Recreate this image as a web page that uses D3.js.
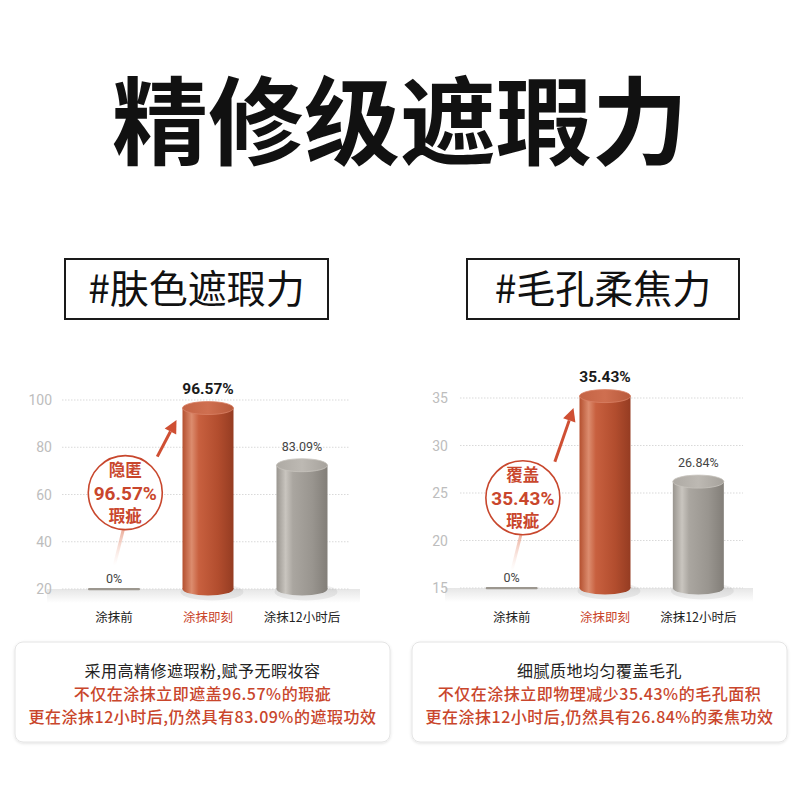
<!DOCTYPE html>
<html><head><meta charset="utf-8">
<script src="https://cdn.jsdelivr.net/npm/d3@7"></script>
<style>
html,body{margin:0;padding:0;background:#fff;}
svg{display:block;font-family:"Noto Sans CJK SC","Noto Sans",sans-serif;}
</style></head>
<body><svg id="c" width="800" height="800"></svg>
<script>
// ---------- data ----------
const title = "精修级遮瑕力";
const categories = ["涂抹前", "涂抹即刻", "涂抹12小时后"];
const leftTag = "#肤色遮瑕力";
const rightTag = "#毛孔柔焦力";
const leftTicks = [20, 40, 60, 80, 100];
const rightTicks = [15, 20, 25, 30, 35];
const leftLabels = ["0%", "96.57%", "83.09%"];
const rightLabels = ["0%", "35.43%", "26.84%"];
// bar tops
const leftValues = [20, 96.6, 72.4];
const rightValues = [15, 35.2, 26.2];
const leftBadge = ["隐匿", "96.57%", "瑕疵"];
const rightBadge = ["覆盖", "35.43%", "瑕疵"];
const leftText = ["采用高精修遮瑕粉,赋予无暇妆容", "不仅在涂抹立即遮盖96.57%的瑕疵", "更在涂抹12小时后,仍然具有83.09%的遮瑕功效"];
const rightText = ["细腻质地均匀覆盖毛孔", "不仅在涂抹立即物理减少35.43%的毛孔面积", "更在涂抹12小时后,仍然具有26.84%的柔焦功效"];

const RED = "#c9462c";
const svg = d3.select("#c");
const defs = svg.append("defs");

function hGrad(id, stops) {
  const g = defs.append("linearGradient").attr("id", id).attr("x1", "0%").attr("x2", "100%").attr("y1", "0%").attr("y2", "0%");
  stops.forEach(s => g.append("stop").attr("offset", s[0]).attr("stop-color", s[1]));
}
function vGrad(id, stops) {
  const g = defs.append("linearGradient").attr("id", id).attr("x1", "0%").attr("x2", "0%").attr("y1", "0%").attr("y2", "100%");
  stops.forEach(s => g.append("stop").attr("offset", s[0]).attr("stop-color", s[1]).attr("stop-opacity", s[2] == null ? 1 : s[2]));
}
hGrad("orBody", [["0%", "#b4502f"], ["18%", "#dc8c6e"], ["32%", "#c8603f"], ["70%", "#b24d2e"], ["100%", "#953c22"]]);
hGrad("orTop", [["0%", "#c46445"], ["50%", "#cf6f50"], ["100%", "#b85a3c"]]);
hGrad("grBody", [["0%", "#99958f"], ["18%", "#c9c5bf"], ["32%", "#aaa6a0"], ["70%", "#99958f"], ["100%", "#827e78"]]);
hGrad("grTop", [["0%", "#aeaaa4"], ["50%", "#bdb9b3"], ["100%", "#a6a29c"]]);
vGrad("floor", [["0%", "#e6e6e6"], ["100%", "#ffffff"]]);
vGrad("fade", [["0%", "#e9a48f", 0.9], ["100%", "#f6d6cb", 0]]);
const sh = defs.append("filter").attr("id", "shadow").attr("x", "-10%").attr("y", "-10%").attr("width", "120%").attr("height", "130%");
sh.append("feDropShadow").attr("dx", 0).attr("dy", 1).attr("stdDeviation", 1.5).attr("flood-color", "#000").attr("flood-opacity", 0.12);

// ---------- title ----------
svg.append("text").attr("x", 400).attr("y", 157).attr("text-anchor", "middle")
  .attr("font-size", 96).attr("font-weight", 700).attr("fill", "#111").text(title);

// ---------- tags ----------
function tag(x0, x1, txt) {
  svg.append("rect").attr("x", x0).attr("y", 259).attr("width", x1 - x0).attr("height", 60)
    .attr("fill", "#fff").attr("stroke", "#1a1a1a").attr("stroke-width", 2);
  svg.append("text").attr("x", (x0 + x1) / 2).attr("y", 303).attr("text-anchor", "middle")
    .attr("font-size", 39).attr("font-weight", 400).attr("fill", "#111").text(txt);
}
tag(65, 328, leftTag);
tag(467, 739, rightTag);

// ---------- charts ----------
function chart(cfg) {
  const g = svg.append("g");
  const y = d3.scaleLinear().domain(cfg.domain).range([cfg.yBase, cfg.yTop]);
  const x = d3.scalePoint().domain(categories).range(cfg.xRange).padding(0.5);
  const step = x.step();
  const bw = 51, ry = 6.5;

  // floor
  g.append("rect").attr("x", cfg.gx0 - 15).attr("y", cfg.yBase).attr("width", cfg.gx1 - cfg.gx0 + 25).attr("height", 14)
    .attr("fill", "url(#floor)");

  // grid + ticks
  cfg.ticks.forEach(t => {
    g.append("line").attr("x1", cfg.gx0).attr("x2", cfg.gx1).attr("y1", y(t)).attr("y2", y(t))
      .attr("stroke", "#d9d9d9").attr("stroke-width", 1).attr("stroke-dasharray", "1.5,1.5");
    g.append("text").attr("x", cfg.labX).attr("y", y(t) + 5).attr("text-anchor", "end")
      .attr("font-family", "Roboto, 'Noto Sans', sans-serif").attr("font-size", 14).attr("fill", "#bdbdbd").text(t);
  });

  // bars
  cfg.values.forEach((v, i) => {
    const cx = x(categories[i]);
    const yT = y(v), yB = y(cfg.domain[0]);
    if (i === 0) {
      g.append("rect").attr("x", cx - 26).attr("y", yB - 1).attr("width", 52).attr("height", 2.2)
        .attr("rx", 1).attr("fill", "#9c978f");
    } else {
      const body = i === 1 ? "url(#orBody)" : "url(#grBody)";
      const top = i === 1 ? "url(#orTop)" : "url(#grTop)";
      g.append("ellipse").attr("cx", cx + 4).attr("cy", yB + 3).attr("rx", bw / 2 + 6).attr("ry", ry + 2)
        .attr("fill", "#000").attr("opacity", 0.06);
      g.append("ellipse").attr("cx", cx).attr("cy", yB).attr("rx", bw / 2).attr("ry", ry).attr("fill", body);
      g.append("rect").attr("x", cx - bw / 2).attr("y", yT).attr("width", bw).attr("height", yB - yT).attr("fill", body);
      g.append("ellipse").attr("cx", cx).attr("cy", yT).attr("rx", bw / 2).attr("ry", ry).attr("fill", top)
        .attr("stroke", i === 1 ? "#d98266" : "#c8c4be").attr("stroke-width", 0.8);
    }
    const lab = g.append("text").attr("x", cx).attr("y", yT - (i === 0 ? 6 : ry + 8)).attr("text-anchor", "middle")
      .attr("font-family", "Roboto, 'Noto Sans', sans-serif").text(cfg.labels[i]);
    if (i === 1) lab.attr("font-size", 15.5).attr("font-weight", 700).attr("fill", "#1a1a1a");
    else lab.attr("font-size", 12.5).attr("fill", "#444");
    // category
    g.append("text").attr("x", cx).attr("y", 622).attr("text-anchor", "middle").attr("font-size", 12.5)
      .attr("fill", i === 1 ? RED : "#222").text(categories[i]);
  });

  // badge
  const bx = x(categories[0]) + step * 0.12;
  const by = y(cfg.badgeAt);
  const r = 37;
  // faint tail down to first bar
  g.append("line").attr("x1", bx - 2).attr("y1", by + r).attr("x2", bx - 11).attr("y2", by + r + 36)
    .attr("stroke", "url(#fade)").attr("stroke-width", 3);
  // arrow toward top bar
  const ax0 = bx + 32, ay0 = by - 36;
  const topX = x(categories[1]) - bw / 2 - 6, topY = y(cfg.values[1]) + 12;
  const ang = Math.atan2(topY - ay0, topX - ax0);
  const hl = 13, hw = 6.5;
  const bxh = topX - hl * Math.cos(ang), byh = topY - hl * Math.sin(ang);
  g.append("line").attr("x1", ax0).attr("y1", ay0).attr("x2", bxh).attr("y2", byh)
    .attr("stroke", "#cf4f33").attr("stroke-width", 3);
  const px = -Math.sin(ang), py = Math.cos(ang);
  g.append("polygon").attr("points", [
    [topX, topY], [bxh + px * hw, byh + py * hw], [bxh - px * hw, byh - py * hw]
  ].map(p => p.join(",")).join(" ")).attr("fill", "#cf4f33");
  g.append("circle").attr("cx", bx).attr("cy", by).attr("r", r).attr("fill", "#fff")
    .attr("stroke", "#c8472d").attr("stroke-width", 1.6);
  cfg.badge.forEach((t, k) => {
    const tx = g.append("text").attr("x", bx).attr("text-anchor", "middle")
      .attr("font-weight", 700).attr("fill", RED).text(t);
    if (k === 1) tx.attr("y", by + 7).attr("font-size", 19).attr("font-family", "Roboto, 'Noto Sans', sans-serif");
    else tx.attr("y", by + 6 + (k - 1) * 23).attr("font-size", 16.5);
  });
}

chart({domain: [20, 100], ticks: leftTicks, yBase: 589, yTop: 400, xRange: [67, 349], gx0: 62, gx1: 350, labX: 52,
  values: leftValues, labels: leftLabels, badge: leftBadge, badgeAt: 60.8});
chart({domain: [15, 35], ticks: rightTicks, yBase: 588, yTop: 398, xRange: [465, 745], gx0: 460, gx1: 743, labX: 448,
  values: rightValues, labels: rightLabels, badge: rightBadge, badgeAt: 24.5});

// ---------- text boxes ----------
function box(x0, x1, lines) {
  svg.append("rect").attr("x", x0).attr("y", 642).attr("width", x1 - x0).attr("height", 100).attr("rx", 8)
    .attr("fill", "#fff").attr("stroke", "#e4e4e4").attr("stroke-width", 1).attr("filter", "url(#shadow)");
  const cx = (x0 + x1) / 2;
  lines.forEach((t, k) => {
    svg.append("text").attr("x", cx).attr("y", 676.5 + k * 23.4).attr("text-anchor", "middle")
      .attr("font-size", 16).attr("letter-spacing", 0.5).attr("font-weight", k === 0 ? 400 : 500)
      .attr("fill", k === 0 ? "#222" : RED).text(t);
  });
}
box(15, 390, leftText);
box(412, 787, rightText);
</script></body></html>
